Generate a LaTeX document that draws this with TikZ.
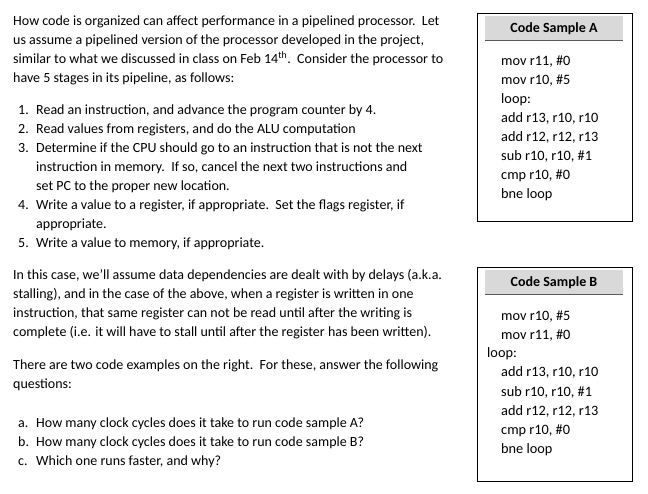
\documentclass[tikz,border=0pt]{standalone}
\usepackage{fontspec}
\setmainfont{Carlito}
\begin{document}
\begin{tikzpicture}[x=1pt,y=-1pt,
  t/.style={anchor=base west,inner sep=0pt,font=\fontsize{14}{17}\selectfont},
  c/.style={anchor=base west,inner sep=0pt,font=\fontsize{14.3}{17}\selectfont},
  h/.style={anchor=base,inner sep=0pt,font=\fontsize{14}{17}\selectfont\bfseries}]
\useasboundingbox (0,0) rectangle (648,494);
% left text
\node[t] (l1) at (13,26) {How code is organized can affect performance in a pipelined processor.\ \ Let};
\node[t] (l2) at (13,45) {us assume a pipelined version of the processor developed in the project,};
\node[t] (l3) at (13,64) {similar to what we discussed in class on Feb 14\textsuperscript{th}.\ \ Consider the processor to};
\node[t] (l4) at (13,83) {have 5 stages in its pipeline, as follows:};
\foreach \n/\y/\s in {1/115/{Read an instruction, and advance the program counter by 4.},
 2/134/{Read values from registers, and do the ALU computation},
 3/153/{Determine if the CPU should go to an instruction that is not the next},
 4/210/{Write a value to a register, if appropriate.\ \ Set the flags register, if},
 5/248/{Write a value to memory, if appropriate.}}{
  \node[t] (n\n) at (18,\y) {\n.};
  \node[t] (i\n) at (36,\y) {\s};
}
\node[t] (i3b) at (36,172) {instruction in memory.\ \ If so, cancel the next two instructions and};
\node[t] (i3c) at (36,191) {set PC to the proper new location.};
\node[t] (i4b) at (36,229) {appropriate.};
\node[t] (p1) at (13,280) {In this case, we’ll assume data dependencies are dealt with by delays (a.k.a.};
\node[t] (p2) at (13,299) {stalling), and in the case of the above, when a register is written in one};
\node[t] (p3) at (13,318) {instruction, that same register can not be read until after the writing is};
\node[t] (p4) at (13,337) {complete (i.e. it will have to stall until after the register has been written).};
\node[t] (q1) at (13,369) {There are two code examples on the right.\ \ For these, answer the following};
\node[t] (q2) at (13,388) {questions:};
\foreach \n/\y/\s in {a/427/{How many clock cycles does it take to run code sample A?},
 b/446/{How many clock cycles does it take to run code sample B?},
 c/465/{Which one runs faster, and why?}}{
  \node[t] (m\n) at (18,\y) {\n.};
  \node[t] (j\n) at (36,\y) {\s};
}
% box A
\draw[line width=0.8pt] (477,13) rectangle (632,221);
\fill[gray!30] (485,16) rectangle (623,40);
\draw[gray!70!black,line width=0.6pt] (485,40) -- (623,40);
\node[h] (ha) at (554,33) {Code Sample A};
\foreach \y/\s in {66/{mov r11, \#0},85/{mov r10, \#5},104/{loop:},123/{add r13, r10, r10},
  142/{add r12, r12, r13},161/{sub r10, r10, \#1},180/{cmp r10, \#0},199/{bne loop}}{
  \node[c] at (501,\y) {\s};
}
% box B
\draw[line width=0.8pt] (477,267) rectangle (632,481);
\fill[gray!30] (485,270) rectangle (623,294);
\draw[gray!70!black,line width=0.6pt] (485,294) -- (623,294);
\node[h] (hb) at (554,287) {Code Sample B};
\foreach \y/\x/\s in {320/501/{mov r10, \#5},339/501/{mov r11, \#0},358/487/{loop:},377/501/{add r13, r10, r10},
  396/501/{sub r10, r10, \#1},415/501/{add r12, r12, r13},434/501/{cmp r10, \#0},453/501/{bne loop}}{
  \node[c] at (\x,\y) {\s};
}
\end{tikzpicture}
\end{document}
